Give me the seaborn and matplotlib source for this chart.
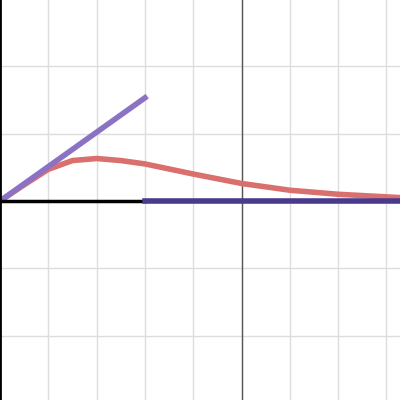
import matplotlib
matplotlib.use("Agg")
import matplotlib.pyplot as plt
import seaborn as sns
import pandas as pd

# red curve
curve_x = [-5, -4.5, -4, -3.5, -3, -2.5, -2, -1, 0, 1, 2, 3.3]
curve_y = [0, 0.24, 0.47, 0.6, 0.63, 0.6, 0.55, 0.4, 0.26, 0.16, 0.1, 0.05]
# purple segment
seg_x = [-5, -2]
seg_y = [0, 1.53]
# flat lines
black_x = [-5, -2]
navy_x = [-2, 3.3]

fig = plt.figure(figsize=(4, 4), dpi=100)
ax = fig.add_axes([0, 0, 1, 1])
ax.set_xlim(-5, 3.28)
ax.set_ylim(-2.95, 2.98)

for gx in range(-5, 4):
    ax.axvline(gx, color="#dddddd", lw=1, zorder=0)
for gy in range(-2, 3):
    ax.axhline(gy, color="#dddddd", lw=1, zorder=0)
ax.axvline(0, color="#555555", lw=1, zorder=1)
ax.axhline(0, color="#555555", lw=1, zorder=1)

sns.lineplot(data=pd.DataFrame({"x": curve_x, "y": curve_y}), x="x", y="y",
             ax=ax, color="#d9706e", lw=4, estimator=None)
sns.lineplot(x=seg_x, y=seg_y, ax=ax, color="#8c72c4", lw=4, estimator=None)
sns.lineplot(x=black_x, y=[0, 0], ax=ax, color="black", lw=2.5, estimator=None)
sns.lineplot(x=navy_x, y=[0, 0], ax=ax, color="#4a3a8c", lw=4, estimator=None)

ax.set_xticks([])
ax.set_yticks([])
ax.set_xlabel("")
ax.set_ylabel("")
for s in ax.spines.values():
    s.set_visible(False)
ax.spines["left"].set_visible(True)
ax.spines["left"].set_color("black")
ax.spines["left"].set_linewidth(2)

fig.savefig("out.png", dpi=100)
